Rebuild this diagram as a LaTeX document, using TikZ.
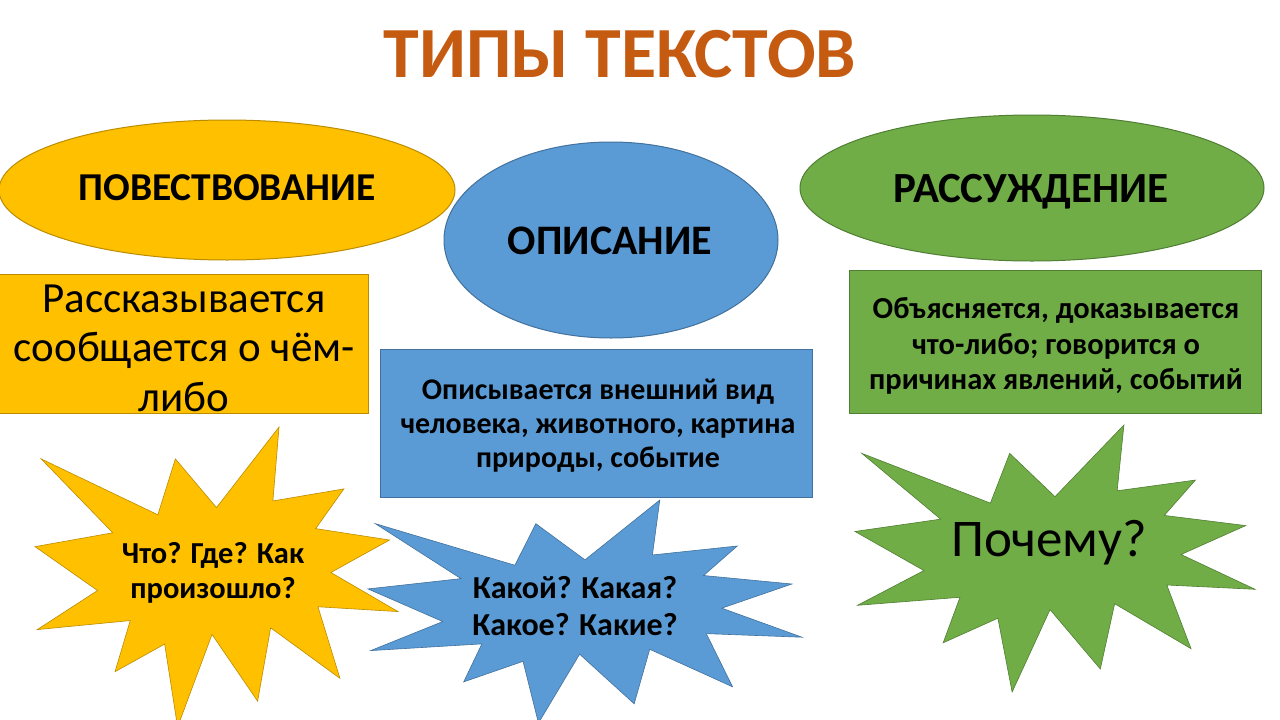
\documentclass[tikz,border=0pt]{standalone}
\usepackage{fontspec}
\setmainfont{Carlito}
\usetikzlibrary{shapes.geometric}
\definecolor{ylw}{HTML}{FFC000}
\definecolor{ylwd}{HTML}{BC8C00}
\definecolor{blu}{HTML}{5B9BD5}
\definecolor{blud}{HTML}{41719C}
\definecolor{grn}{HTML}{70AD47}
\definecolor{grnd}{HTML}{507E32}
\definecolor{ttl}{HTML}{C55A11}
\newcommand\sealshape{(50,26.85) -- (67.23,0) -- (65.53,24.65) -- (85.09,20.63) -- (77.32,33.87) -- (97.67,37.67) -- (81.51,48.50) -- (100,61.53) -- (77.95,59.92) -- (84.00,83.77) -- (64.91,66.93) -- (61.33,91.38) -- (48.76,69.14) -- (39.28,100) -- (35.72,72.35) -- (22.05,81.56) -- (26.24,64.52) -- (0.625,67.53) -- (17.23,54.51) -- (0,39.88) -- (21.42,35.26) -- (1.71,10.63) -- (33.85,29.26) -- (38.67,10.63) -- cycle}
\tikzset{
  yfill/.style={fill=ylw,draw=ylwd,line width=1pt},
  bfill/.style={fill=blu,draw=blud,line width=1pt},
  gfill/.style={fill=grn,draw=grnd,line width=1pt},
  headlbl/.style={text height=26pt,text depth=0pt,inner sep=0pt},
  boxtxt/.style={align=center,inner sep=0pt},
}
\begin{document}
\begin{tikzpicture}[x=1pt,y=-1pt]
\useasboundingbox (0,0) rectangle (1280,720);
\clip (0,0) rectangle (1280,720);
\fill[white] (0,0) rectangle (1280,720);

% title
\node[font=\fontsize{72}{86}\selectfont\bfseries,text=ttl,text height=46pt,text depth=0pt,inner sep=0pt] (title) at (620,54) {ТИПЫ ТЕКСТОВ};

% ellipses
\path[yfill] (227,190) ellipse [x radius=228,y radius=70];
\path[bfill] (611,240) ellipse [x radius=167,y radius=98];
\path[gfill] (1032,188) ellipse [x radius=232,y radius=73];
\node[headlbl,font=\fontsize{39.5}{47}\selectfont\bfseries] (povest) at (227,187) {ПОВЕСТВОВАНИЕ};
\node[headlbl,font=\fontsize{42}{50}\selectfont\bfseries] (opis) at (610,241) {ОПИСАНИЕ};
\node[headlbl,font=\fontsize{43}{51}\selectfont\bfseries] (rass) at (1031,189) {РАССУЖДЕНИЕ};

% rectangles
\path[yfill] (-1,274) rectangle (368,413);
\path[bfill] (380,349) rectangle (812,497);
\path[gfill] (849,270) rectangle (1261,413);
\node[boxtxt,font=\fontsize{43}{49.5}\selectfont] (ytext) at (184,348) {Рассказывается\\сообщается о чём-\\либо};
\node[boxtxt,font=\fontsize{30}{34}\selectfont\bfseries] (btext) at (598,426) {Описывается внешний вид\\человека, животного, картина\\природы, событие};
\node[boxtxt,font=\fontsize{30.5}{35.5}\selectfont\bfseries] (gtext) at (1056,346) {Объясняется, доказывается\\что-либо; говорится о\\причинах явлений, событий};

% starbursts
\begin{scope}[shift={(855,425)},x=4pt,y=-2.67pt]
\path[gfill,line width=0.6pt] \sealshape;
\end{scope}
\begin{scope}[shift={(368,500)},x=4.34pt,y=-2.23pt]
\path[bfill,line width=0.6pt] \sealshape;
\end{scope}
\begin{scope}[shift={(35,427)},x=3.63pt,y=-3.00pt]
\path[yfill,line width=0.6pt] \sealshape;
\end{scope}
\node[boxtxt,font=\fontsize{30.5}{35}\selectfont\bfseries] (ystar) at (213,573) {Что? Где? Как\\произошло?};
\node[boxtxt,font=\fontsize{32}{37}\selectfont\bfseries] (bstar) at (575,606) {Какой? Какая?\\Какое? Какие?};
\node[boxtxt,font=\fontsize{53}{60}\selectfont] (gstar) at (1049,543) {Почему?};
\end{tikzpicture}
\end{document}
